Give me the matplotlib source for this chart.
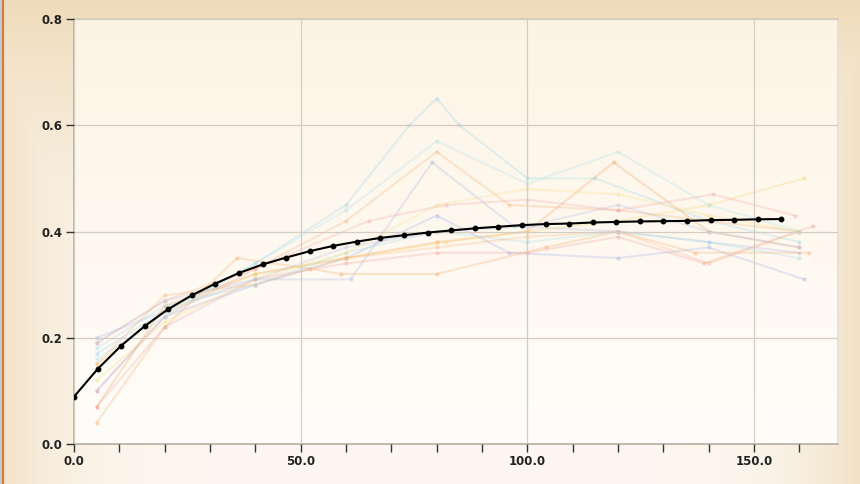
import matplotlib
matplotlib.use("Agg")
import matplotlib.pyplot as plt
import numpy as np
from matplotlib.ticker import MultipleLocator, FormatStrFormatter

# mean curve (black)
mean_x = [0.0, 5.2, 10.4, 15.6, 20.8, 26.0, 31.2, 36.4, 41.6, 46.8, 52.0, 57.2, 62.4,
          67.6, 72.8, 78.0, 83.2, 88.4, 93.6, 98.8, 104.0, 109.2, 114.4, 119.6, 124.8,
          130.0, 135.2, 140.4, 145.6, 150.8, 156.0]
mean_y = [0.089, 0.141, 0.185, 0.222, 0.254, 0.280, 0.302, 0.322, 0.338, 0.351, 0.363,
          0.373, 0.381, 0.388, 0.393, 0.398, 0.402, 0.406, 0.409, 0.412, 0.414, 0.415,
          0.417, 0.418, 0.419, 0.4195, 0.420, 0.4215, 0.422, 0.423, 0.4235]

# faint individual runs
runs = [
    ([5, 20, 40, 60, 74, 80, 85, 100, 115, 140, 160],
     [0.17, 0.25, 0.34, 0.45, 0.60, 0.65, 0.60, 0.50, 0.50, 0.42, 0.38], '#9fd8e8'),
    ([5, 20, 40, 60, 80, 96, 120, 140, 160],
     [0.19, 0.27, 0.33, 0.42, 0.55, 0.45, 0.44, 0.42, 0.40], '#f2b27a'),
    ([5, 20, 40, 61, 79, 97, 120, 140, 160],
     [0.20, 0.25, 0.31, 0.31, 0.53, 0.41, 0.40, 0.38, 0.36], '#a9b6e6'),
    ([5, 20, 40, 60, 80, 96, 120, 140, 161],
     [0.10, 0.24, 0.30, 0.35, 0.43, 0.36, 0.35, 0.37, 0.31], '#9fb0e8'),
    ([5, 20, 36, 52, 59, 80, 104, 120, 137, 162],
     [0.04, 0.22, 0.35, 0.33, 0.32, 0.32, 0.37, 0.40, 0.36, 0.36], '#f3a96b'),
    ([5, 20, 40, 60, 80, 100, 119, 140, 160],
     [0.07, 0.26, 0.32, 0.35, 0.38, 0.40, 0.53, 0.40, 0.37], '#f0a060'),
    ([5, 20, 40, 60, 82, 100, 120, 140, 161],
     [0.15, 0.25, 0.32, 0.35, 0.38, 0.40, 0.42, 0.45, 0.50], '#f5d873'),
    ([5, 20, 40, 65, 82, 100, 120, 141, 159],
     [0.10, 0.24, 0.33, 0.42, 0.45, 0.46, 0.44, 0.47, 0.43], '#f2a8a8'),
    ([5, 20, 40, 60, 80, 100, 120, 139, 163],
     [0.07, 0.22, 0.31, 0.34, 0.36, 0.36, 0.39, 0.34, 0.41], '#f0a0a0'),
    ([5, 20, 40, 60, 80, 100, 120, 140, 160],
     [0.18, 0.26, 0.30, 0.36, 0.40, 0.38, 0.40, 0.38, 0.35], '#a8dde8'),
    ([5, 20, 40, 60, 80, 100, 120, 140, 160],
     [0.12, 0.23, 0.31, 0.36, 0.45, 0.48, 0.47, 0.43, 0.40], '#f6e08a'),
    ([5, 20, 40, 60, 80, 100, 120, 140, 160],
     [0.19, 0.27, 0.31, 0.37, 0.40, 0.41, 0.45, 0.40, 0.37], '#b8bfe8'),
    ([5, 20, 40, 60, 80, 100, 120, 140, 160],
     [0.15, 0.28, 0.30, 0.35, 0.37, 0.39, 0.40, 0.34, 0.40], '#f4b888'),
    ([5, 20, 40, 60, 80, 100, 120, 140, 160],
     [0.16, 0.24, 0.34, 0.44, 0.57, 0.49, 0.55, 0.45, 0.40], '#b0e4ec'),
]

fig = plt.figure(figsize=(8.6, 4.84), dpi=100)

# figure background: tan edges, light centre
bg = fig.add_axes([0, 0, 1, 1], zorder=-10)
yy, xx = np.mgrid[0:1:200j, 0:1:300j]
w_top = (1 - yy) ** 2.2
w_side = (np.abs(xx - 0.5) * 2) ** 6
w = np.clip(np.maximum(w_top * 0.95, w_side * 0.75), 0, 1)
light = np.array([0.988, 0.972, 0.945])
tan = np.array([0.937, 0.855, 0.72])
img = light[None, None, :] * (1 - w[..., None]) + tan[None, None, :] * w[..., None]
bg.imshow(img, extent=[0, 1, 0, 1], origin='upper', aspect='auto')
bg.axvline(0.004, color='#d07a40', lw=1.5)
bg.axvline(0.001, color='#c8c8c8', lw=1.5)
bg.set_xlim(0, 1)
bg.set_ylim(0, 1)
bg.axis('off')

ax = fig.add_axes([0.086, 0.0826, 0.8884, 0.8781])
ax.set_facecolor('none')
grad = np.linspace(0, 1, 100)[:, None]
c_top = np.array([0.992, 0.955, 0.895])
c_bot = np.array([1.0, 0.992, 0.98])
pimg = c_top[None, None, :] * (1 - grad[..., None]) + c_bot[None, None, :] * grad[..., None]
ax.imshow(pimg, extent=[0, 1, 0, 1], transform=ax.transAxes, aspect='auto',
          origin='upper', zorder=0)

for x, y, col in runs:
    ax.plot(x, y, color=col, lw=1.5, alpha=0.28, marker='o', ms=2.2, zorder=2)

ax.plot(mean_x, mean_y, color='black', lw=1.5, marker='o', ms=3.2, zorder=5)

ax.set_xlim(0, 168.5)
ax.set_ylim(0, 0.8)
ax.xaxis.set_major_locator(MultipleLocator(50))
ax.xaxis.set_minor_locator(MultipleLocator(10))
ax.yaxis.set_major_locator(MultipleLocator(0.2))
ax.xaxis.set_major_formatter(FormatStrFormatter('%.1f'))
ax.yaxis.set_major_formatter(FormatStrFormatter('%.1f'))
ax.grid(True, which='major', color='#d6cdc2', lw=0.9, zorder=1)
ax.set_axisbelow(False)
ax.tick_params(which='both', direction='out', length=6, width=1, color='#333333',
               labelsize=8.5, labelcolor='#222222', pad=2)
for lab in ax.get_xticklabels() + ax.get_yticklabels():
    lab.set_fontweight('bold')
ax.spines['left'].set_color('#b5aca0')
ax.spines['bottom'].set_color('#b5aca0')
ax.spines['top'].set_color('#d8ccb8')
ax.spines['right'].set_color('#e4dccf')
for s in ax.spines.values():
    s.set_linewidth(1.2)

fig.savefig('out.png', dpi=100)
